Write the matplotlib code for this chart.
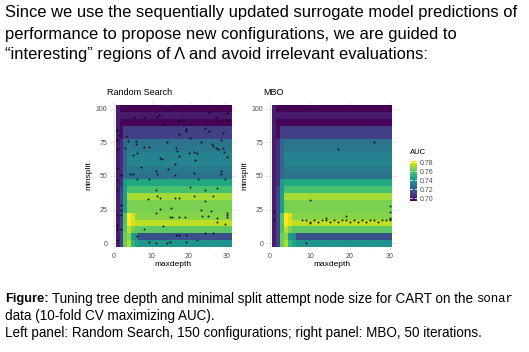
import numpy as np
import matplotlib
matplotlib.use('Agg')
import matplotlib.pyplot as plt

plt.rcParams['font.family'] = ['Liberation Sans', 'DejaVu Sans']

W, H = 529, 352

# surrogate AUC per minsplit row (0, 5, ..., 100)
minsplit = np.arange(0, 101, 5)
auc_deep = [0.740, 0.716, 0.761, 0.774, 0.767, 0.765, 0.765, 0.771, 0.757, 0.747, 0.727,
            0.730, 0.734, 0.733, 0.730, 0.728, 0.711, 0.710, 0.695, 0.700, 0.694]
auc_d1 = [0.701] * 21
auc_d2 = [0.712, 0.712, 0.712, 0.712, 0.712, 0.712, 0.712, 0.712, 0.712, 0.705, 0.705,
          0.705, 0.705, 0.705, 0.705, 0.705, 0.697, 0.697, 0.695, 0.700, 0.694]
auc_d3 = [0.763, 0.763, 0.758, 0.758, 0.758, 0.743, 0.743, 0.743, 0.743, 0.743, 0.723,
          0.723, 0.723, 0.723, 0.723, 0.723, 0.711, 0.710, 0.695, 0.700, 0.694]
auc_d4 = [0.772, 0.767, 0.774, 0.783, 0.783, 0.765, 0.765, 0.771, 0.757, 0.747, 0.727,
          0.730, 0.734, 0.733, 0.730, 0.728, 0.711, 0.710, 0.695, 0.700, 0.694]
auc_d5 = [0.752, 0.743, 0.765, 0.778, 0.778, 0.765, 0.765, 0.771, 0.757, 0.747, 0.727,
          0.730, 0.734, 0.733, 0.730, 0.728, 0.711, 0.710, 0.695, 0.700, 0.694]
auc_d6 = [0.746, 0.7385, 0.761, 0.774, 0.767, 0.765, 0.765, 0.771, 0.757, 0.747, 0.727,
          0.730, 0.734, 0.733, 0.730, 0.728, 0.711, 0.710, 0.695, 0.700, 0.694]

maxdepth_rs = np.arange(1, 32)
maxdepth_mbo = np.arange(1, 31)

# evaluated configurations
rs_maxdepth = [14.4, 25.3, 30.3, 5.3, 8.1, 11.4, 12.1, 17.4, 18.4, 27.2, 27.8, 30.3, 20.4, 13.1,
               0.9, 1.4, 19.3, 19.3, 24.4, 25.3, 3.3, 17.3, 29.1, 0.9, 5.8, 3.6, 14.1, 20.4,
               23.3, 28.5, 26.5, 0.9, 2.9, 5.8, 8.1, 9.2, 6.0, 5.1, 12.3, 12.9, 16.6, 16.8,
               17.4, 20.0, 21.3, 22.2, 21.6, 27.2, 27.8, 29.1, 29.4, 30.3, 26.3, 0.9, 1.9,
               0.9, 0.9, 4.3, 5.1, 6.0, 7.2, 9.2, 11.2, 11.4, 14.3, 16.2, 16.4, 21.3, 22.4,
               28.5, 28.5, 29.6, 20.4, 24.3, 27.5, 11.2, 11.4, 12.3, 9.1, 16.4, 17.3, 21.3,
               24.4, 26.5, 1.9, 1.9, 0.9, 1.9, 12.3, 15.2, 11.2, 14.9, 15.6, 17.4, 18.9, 23.3,
               23.5, 25.0, 25.8, 30.3, 30.3, 30.3, 13.1, 8.1, 1.9, 0.9, 0.9, 27.4, 29.6, 16.6,
               17.4, 19.3, 24.4, 26.5, 6.0, 9.2, 11.2, 14.1, 15.0, 19.3, 22.2, 0.9, 27.6]
rs_minsplit = [99, 97.5, 96.5, 93.6, 94, 93.8, 95, 91, 91.6, 93.6, 90.6, 91.6, 89, 88.4,
               84, 80.7, 84.7, 83.4, 86, 83.7, 79.7, 81, 82.2, 76.7, 76, 76, 75, 78,
               75.2, 76.5, 72.3, 69.8, 70.5, 73.5, 71.8, 71.8, 66.8, 65.6, 63.6, 62.6, 70.5, 68.8,
               64.6, 67.3, 68, 67.3, 61.9, 70.5, 69.8, 71, 68, 64.3, 73.5, 55.7, 50.7,
               47, 39.6, 51.2, 51.2, 47.5, 56.4, 47.5, 54, 51.2, 55, 50.7, 58.7, 52.5, 47.5,
               54, 51.2, 47.5, 41.6, 39.6, 40.8, 39.6, 35, 33.9, 32.9, 33.9, 33.9, 35.4,
               31.7, 35.4, 28.5, 24.8, 21, 21, 25.5, 26.5, 22.8, 19.8, 19.8, 19.8, 19.8, 24.8,
               20.5, 20.5, 24.3, 22.8, 21, 19.3, 12.9, 10.4, 10.4, 13.6, 10.4, 16, 14.4, 6.2,
               6.2, 6.2, 7.4, 7.4, 5.7, 1.2, 0, 0, 0.7, 1.2, 2.5, 2.5, 18.6]

mbo_maxdepth = [9, 26, 17, 10, 1, 1, 9, 30, 30, 30, 30, 14, 19, 10,
                8, 9, 10, 11, 12, 13, 14, 15, 16, 17, 18, 19, 20, 21, 22, 23, 24, 25,
                26, 27, 28, 29, 30]
mbo_minsplit = [100, 75, 70, 32, 24, 18, 0, 28, 23, 19, 18, 19, 20, 15,
                17, 17, 16, 17, 16, 17, 17, 16, 17, 16, 17, 17, 16, 17, 16, 17, 16, 17,
                17, 16, 17, 17, 17]

vmin, vmax = 0.694, 0.783
legend_ticks = [0.70, 0.72, 0.74, 0.76, 0.78]


def build_grid(ncol):
    cols = [auc_d1, auc_d2, auc_d3, auc_d4, auc_d5, auc_d6] + [auc_deep] * (ncol - 6)
    return np.array(cols).T


def px_axes(x0, y0, x1, y1):
    return fig.add_axes([x0 / W, 1 - y1 / H, (x1 - x0) / W, (y1 - y0) / H])


fig = plt.figure(figsize=(W / 100, H / 100), dpi=100)


def panel(ax, md, grid, px, py, title, xlim):
    ax.set_xlim(*xlim)
    ax.set_ylim(-5.0, 105.0)
    for v in [5, 15, 25]:
        ax.axvline(v, color='#f2f2f2', lw=0.5, zorder=0)
    for v in [12.5, 37.5, 62.5, 87.5]:
        ax.axhline(v, color='#f2f2f2', lw=0.5, zorder=0)
    for v in [0, 10, 20, 30]:
        ax.axvline(v, color='#e6e6e6', lw=0.7, zorder=0)
    for v in [0, 25, 50, 75, 100]:
        ax.axhline(v, color='#e6e6e6', lw=0.7, zorder=0)
    mesh = ax.pcolormesh(md, minsplit, grid, shading='nearest', cmap='viridis',
                         vmin=vmin, vmax=vmax, zorder=1)
    ax.scatter(px, py, s=2.0, c='black', alpha=0.85, linewidths=0, zorder=2)
    ax.set_xticks([0, 10, 20, 30])
    ax.set_yticks([0, 25, 50, 75, 100])
    ax.tick_params(length=0, labelsize=5, colors='#4d4d4d', pad=2)
    for s in ax.spines.values():
        s.set_visible(False)
    ax.set_xlabel('maxdepth', fontsize=6, labelpad=1)
    ax.set_ylabel('minsplit', fontsize=6, labelpad=2)
    ax.set_title(title, fontsize=6.5, loc='left', x=-0.02, pad=5)
    return mesh


ax1 = px_axes(110, 102, 236, 250)
panel(ax1, maxdepth_rs, build_grid(len(maxdepth_rs)), rs_maxdepth, rs_minsplit,
      'Random Search', (-1.1, 32.6))
ax2 = px_axes(266, 102, 397, 250)
mesh = panel(ax2, maxdepth_mbo, build_grid(len(maxdepth_mbo)), mbo_maxdepth, mbo_minsplit,
             'MBO', (-1.0, 31.75))

cax = px_axes(410, 160.7, 417, 200.7)
cb = fig.colorbar(mesh, cax=cax, ticks=legend_ticks)
cb.outline.set_visible(False)
cb.ax.tick_params(length=0, labelsize=5, colors='#4d4d4d', pad=2)
cb.ax.set_yticklabels(['%.2f' % t for t in legend_ticks])
for t in legend_ticks:
    cax.plot([0, 0.22], [t, t], color='white', lw=0.6)
    cax.plot([0.78, 1], [t, t], color='white', lw=0.6)
fig.text(410 / W, 1 - 153 / H, 'AUC', fontsize=5.5, va='center', ha='left')

# slide text
para = ['Since we use the sequentially updated surrogate model predictions of',
        'performance to propose new configurations, we are guided to',
        '\u201cinteresting\u201d regions of \u039b and avoid irrelevant evaluations:']
for i, line in enumerate(para):
    fig.text(5 / W, 1 - (13 + 21 * i) / H, line, fontsize=11.85, va='center', ha='left')

renderer = fig.canvas.get_renderer()


def put(x, y, s, size=9.75, **kw):
    t = fig.text(x / W, 1 - y / H, s, va='center', ha='left', fontsize=size, **kw)
    bb = t.get_window_extent(renderer=renderer)
    return bb.x1


x = put(5, 299, 'Figure:', size=9.3, fontweight='bold')
x = put(x + 3, 299, 'Tuning tree depth and minimal split attempt node size for CART on the')
put(x + 3, 299, 'sonar', size=8.9, family='Liberation Mono')
put(5, 316, 'data (10-fold CV maximizing AUC).')
put(5, 333, 'Left panel: Random Search, 150 configurations; right panel: MBO, 50 iterations.')

fig.savefig('out.png', dpi=100)
